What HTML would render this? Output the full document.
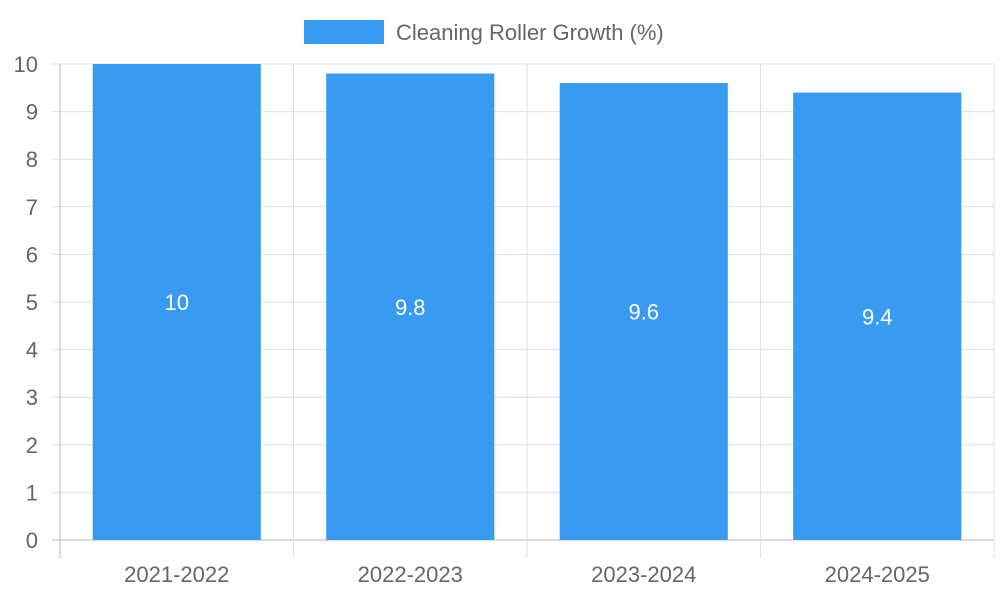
<!DOCTYPE html>
<html><head><meta charset="utf-8"><style>
body{margin:0;background:#fff;}
svg{display:block;font-family:"Liberation Sans",sans-serif;}
</style></head><body>
<svg id="chart" width="1000" height="600" viewBox="0 0 1000 600">
<g id="grid"></g>
<g id="bars"></g>
<g id="labels"></g>
<g>
<rect x="304" y="20" width="80" height="24" fill="#389bf0"/>
<text x="396" y="40" font-size="22" fill="#666">Cleaning Roller Growth (%)</text>
</g>
</svg>
<script>
const categories = ["2021-2022","2022-2023","2023-2024","2024-2025"];
const values = [10, 9.8, 9.6, 9.4];
const valueLabels = ["10","9.8","9.6","9.4"];
const yTicks = [0,1,2,3,4,5,6,7,8,9,10];

const NS="http://www.w3.org/2000/svg";
const L=60,R=994,T=64,B=540,yMax=10;
const y=v=>B-(v/yMax)*(B-T);
const bw=(R-L)/categories.length;
const x=i=>L+bw*i;
function mk(tag,attrs,parent,text){const e=document.createElementNS(NS,tag);for(const k in attrs)e.setAttribute(k,attrs[k]);if(text!==undefined)e.textContent=text;parent.appendChild(e);return e;}
const grid=document.getElementById('grid'),bars=document.getElementById('bars'),labels=document.getElementById('labels');
yTicks.forEach(t=>{
  const l=mk('line',{x1:L-8,x2:R,y1:y(t),y2:y(t),stroke:t===0?'#bbb':'#e0e0e0','stroke-width':1},grid);
  
  
  const tx=mk('text',{x:L-22,y:y(t)+8,'font-size':22,fill:'#666','text-anchor':'end'},labels,String(t));
  
  
});
for(let i=0;i<=categories.length;i++){
  const l=mk('line',{x1:x(i),x2:x(i),y1:T,y2:B+18,stroke:i===0?'#bbb':'#e0e0e0','stroke-width':1},grid);
  
  
}
categories.forEach((c,i)=>{
  const w=bw*0.72,cx=x(i)+bw/2;
  const r=mk('rect',{x:cx-w/2,y:y(values[i]),width:w,height:B-y(values[i]),fill:'#389bf0'},bars);
  
  
  const vl=mk('text',{x:cx,y:(y(values[i])+B)/2+8,'font-size':22,fill:'#fff','text-anchor':'middle'},bars,valueLabels[i]);
  
  
  const tl=mk('text',{x:cx,y:582,'font-size':22,fill:'#666','text-anchor':'middle'},labels,c);
  
  
});
</script>
</body></html>
